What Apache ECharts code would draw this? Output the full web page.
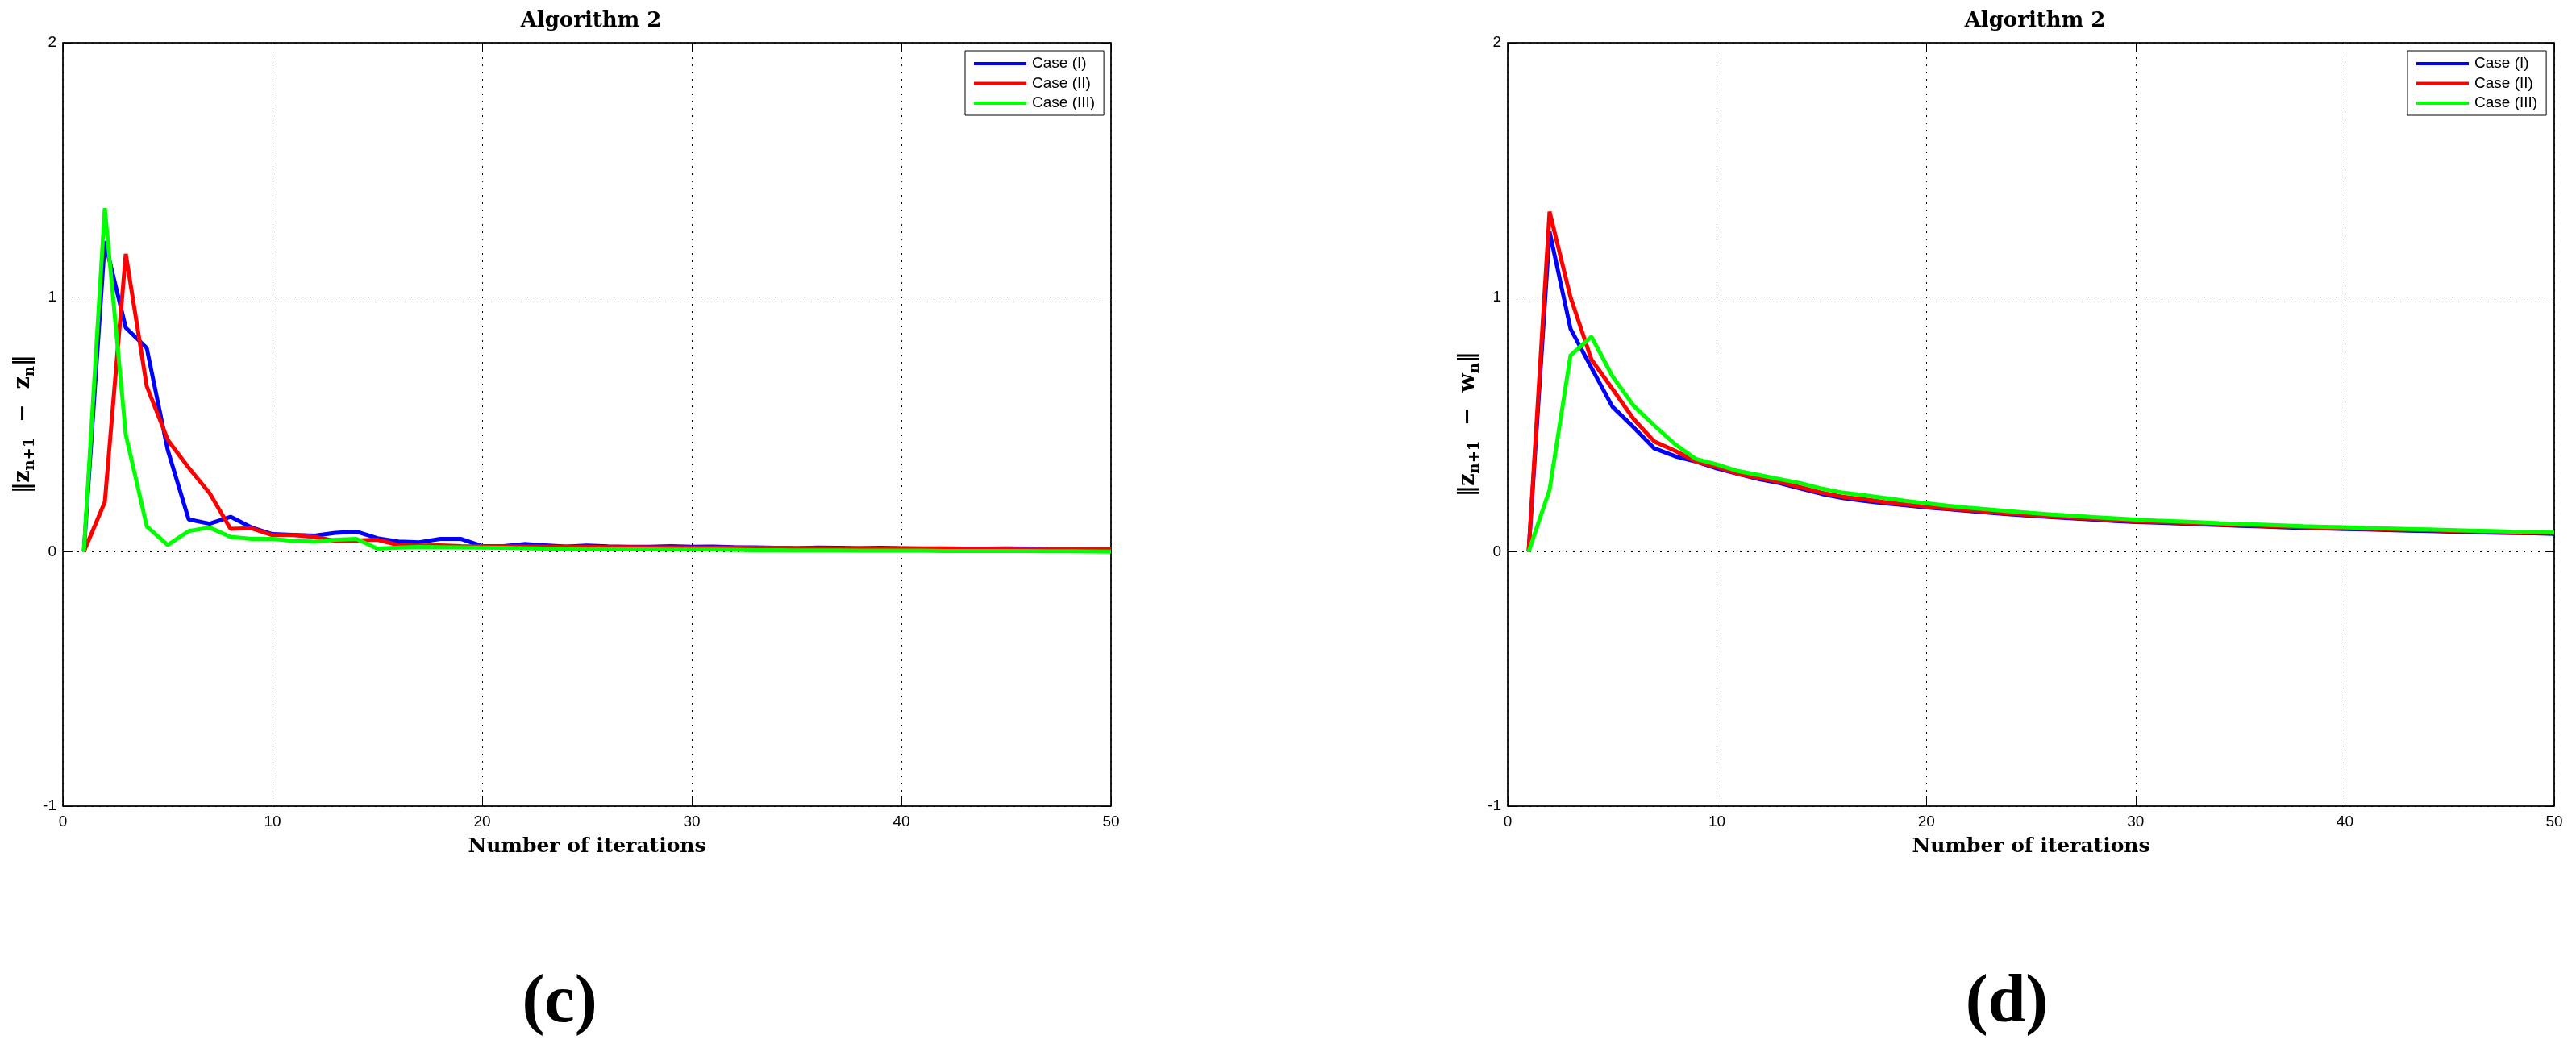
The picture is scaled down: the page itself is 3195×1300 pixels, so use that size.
<!DOCTYPE html>
<html>
<head>
<meta charset="utf-8">
<script src="https://cdn.jsdelivr.net/npm/echarts@6/dist/echarts.min.js"></script>
<style>
html,body{margin:0;padding:0;background:#fff;}
#chart{width:3195px;height:1300px;}
</style>
</head>
<body>
<div id="chart"></div>
<script>
// ---- data ----
const iterations = [1,2,3,4,5,6,7,8,9,10,11,12,13,14,15,16,17,18,19,20,21,22,23,24,25,26,27,28,29,30,31,32,33,34,35,36,37,38,39,40,41,42,43,44,45,46,47,48,49,50];
const seriesNames = ['Case (I)', 'Case (II)', 'Case (III)'];
const xTicks = [0, 10, 20, 30, 40, 50];
const yTicks = [-1, 0, 1, 2];

// (c) ||z_{n+1} - z_n||
const zCase1 = [0,1.22,0.88,0.80,0.40,0.127,0.11,0.137,0.095,0.069,0.066,0.063,0.074,0.079,0.053,0.040,0.037,0.050,0.050,0.022,0.022,0.030,0.025,0.020,0.024,0.021,0.019,0.019,0.022,0.019,0.020,0.018,0.017,0.015,0.014,0.016,0.015,0.014,0.015,0.014,0.013,0.013,0.012,0.012,0.013,0.012,0.010,0.009,0.009,0.008];
const zCase2 = [0,0.195,1.17,0.65,0.44,0.33,0.23,0.09,0.092,0.065,0.065,0.058,0.042,0.044,0.047,0.026,0.024,0.025,0.022,0.021,0.021,0.020,0.020,0.019,0.019,0.018,0.018,0.017,0.017,0.016,0.016,0.016,0.015,0.015,0.014,0.014,0.013,0.013,0.013,0.012,0.012,0.012,0.011,0.011,0.011,0.010,0.010,0.010,0.010,0.010];
const zCase3 = [0,1.35,0.46,0.10,0.026,0.081,0.095,0.058,0.050,0.050,0.042,0.039,0.047,0.050,0.012,0.016,0.019,0.018,0.017,0.016,0.015,0.014,0.012,0.011,0.010,0.010,0.009,0.009,0.008,0.008,0.008,0.007,0.006,0.006,0.005,0.005,0.005,0.004,0.004,0.004,0.004,0.003,0.003,0.003,0.003,0.003,0.002,0.002,0.001,0.0];

// (d) ||z_{n+1} - w_n||
const wCase1 = [0,1.257,0.876,0.723,0.57,0.49,0.406,0.375,0.354,0.327,0.306,0.285,0.269,0.248,0.227,0.211,0.200,0.190,0.182,0.174,0.167,0.160,0.153,0.147,0.141,0.136,0.131,0.126,0.121,0.117,0.114,0.111,0.108,0.105,0.102,0.099,0.096,0.093,0.091,0.089,0.087,0.085,0.083,0.081,0.079,0.077,0.075,0.073,0.072,0.070];
const wCase2 = [0,1.336,1.0,0.755,0.64,0.523,0.433,0.396,0.354,0.333,0.306,0.290,0.274,0.253,0.232,0.216,0.206,0.195,0.186,0.178,0.170,0.163,0.156,0.150,0.144,0.139,0.134,0.129,0.124,0.120,0.117,0.114,0.111,0.108,0.105,0.102,0.099,0.096,0.094,0.092,0.090,0.088,0.086,0.084,0.082,0.080,0.078,0.076,0.075,0.073];
const wCase3 = [0,0.243,0.771,0.845,0.69,0.575,0.496,0.422,0.364,0.343,0.317,0.301,0.285,0.269,0.248,0.232,0.222,0.211,0.200,0.190,0.181,0.173,0.166,0.159,0.152,0.146,0.141,0.136,0.131,0.126,0.122,0.119,0.116,0.112,0.109,0.106,0.103,0.100,0.098,0.096,0.093,0.091,0.089,0.087,0.085,0.083,0.081,0.079,0.078,0.076];

const titles = ['Algorithm 2', 'Algorithm 2'];
const panelLabels = ['(c)', '(d)'];
const xName = 'Number of iterations';

// ---- styling ----
const colors = ['#0000ff', '#ff0000', '#00ff00'];
const sans = '"Liberation Sans", Arial, sans-serif';
const serif = '"DejaVu Serif", serif';

const grids = [
  {left: 78, right: 1817, top: 53, bottom: 300},
  {left: 1870, right: 27, top: 53, bottom: 300}
];

function pairs(ys) { return iterations.map((x, i) => [x, ys[i]]); }

const xAxes = [], yAxes = [];
grids.forEach((g, gi) => {
  xAxes.push({
    type: 'value', gridIndex: gi, position: 'bottom', min: 0, max: 50, interval: 10,
    name: xName, nameLocation: 'middle', nameGap: 38,
    nameTextStyle: {fontFamily: serif, fontWeight: 'bold', fontSize: 25, color: '#000'},
    axisLine: {show: true, onZero: false, lineStyle: {color: '#000', width: 1.5}},
    axisTick: {show: true, inside: true, length: 12, lineStyle: {color: '#000', width: 1}},
    axisLabel: {fontFamily: sans, fontSize: 19, color: '#000', margin: 10,
      formatter: v => xTicks.indexOf(v) >= 0 ? String(v) : ''},
    splitLine: {show: true, lineStyle: {color: '#000', width: 1, type: [2, 7]}}
  });
  xAxes.push({
    type: 'value', gridIndex: gi, position: 'top', min: 0, max: 50, interval: 10,
    axisLine: {show: true, onZero: false, lineStyle: {color: '#000', width: 1.5}},
    axisTick: {show: true, inside: true, length: 12, lineStyle: {color: '#000', width: 1}},
    axisLabel: {show: false}, splitLine: {show: false}
  });
  yAxes.push({
    type: 'value', gridIndex: gi, position: 'left', min: -1, max: 2, interval: 1,
    name: gi === 0
      ? '{b|‖z}{s|n+1}{b|  −  z}{s|n}{b|‖}'
      : '{b|‖z}{s|n+1}{b|  −  w}{s|n}{b|‖}',
    nameLocation: 'middle', nameGap: 32,
    nameTextStyle: {
      color: '#000',
      rich: {
        b: {fontFamily: serif, fontWeight: 'bold', fontSize: 27, color: '#000', verticalAlign: 'middle', lineHeight: 34},
        s: {fontFamily: serif, fontWeight: 'bold', fontSize: 18, color: '#000', verticalAlign: 'bottom', lineHeight: 34, padding: [10, 0, 0, 0]}
      }
    },
    axisLine: {show: true, onZero: false, lineStyle: {color: '#000', width: 1.5}},
    axisTick: {show: true, inside: true, length: 12, lineStyle: {color: '#000', width: 1}},
    axisLabel: {fontFamily: sans, fontSize: 19, color: '#000', margin: 8,
      formatter: v => yTicks.indexOf(v) >= 0 ? String(v) : ''},
    splitLine: {show: true, lineStyle: {color: '#000', width: 1, type: [2, 7]}}
  });
  yAxes.push({
    type: 'value', gridIndex: gi, position: 'right', min: -1, max: 2, interval: 1,
    axisLine: {show: true, onZero: false, lineStyle: {color: '#000', width: 1.5}},
    axisTick: {show: true, inside: true, length: 12, lineStyle: {color: '#000', width: 1}},
    axisLabel: {show: false}, splitLine: {show: false}
  });
});

const datasets = [[zCase1, zCase2, zCase3], [wCase1, wCase2, wCase3]];
const series = [];
datasets.forEach((set, gi) => {
  set.forEach((ys, si) => {
    series.push({
      name: seriesNames[si], type: 'line',
      xAxisIndex: gi * 2, yAxisIndex: gi * 2,
      data: pairs(ys), symbol: 'none', showSymbol: false,
      lineStyle: {color: colors[si], width: 5},
      itemStyle: {color: colors[si]},
      z: 2 + si
    });
  });
});

const legendBase = {
  orient: 'vertical', data: seriesNames,
  icon: 'rect', itemWidth: 65, itemHeight: 4, itemGap: 4.5,
  padding: [6, 11, 5, 11],
  borderColor: '#000', borderWidth: 1, backgroundColor: '#fff', borderRadius: 0,
  textStyle: {fontFamily: sans, fontSize: 19, color: '#000', lineHeight: 20, padding: [0, 0, 0, 2]}
};

const option = {
  backgroundColor: '#fff',
  animation: false,
  title: [
    {text: titles[0], left: 728, top: 8, textAlign: 'center',
      textStyle: {fontFamily: serif, fontWeight: 'bold', fontSize: 26, color: '#000'}},
    {text: titles[1], left: 2519, top: 8, textAlign: 'center',
      textStyle: {fontFamily: serif, fontWeight: 'bold', fontSize: 26, color: '#000'}},
    {text: panelLabels[0], left: 689, top: 1198, textAlign: 'center',
      textStyle: {fontFamily: '"Liberation Serif", serif', fontWeight: 'bold', fontSize: 84, color: '#000'}},
    {text: panelLabels[1], left: 2484, top: 1198, textAlign: 'center',
      textStyle: {fontFamily: '"Liberation Serif", serif', fontWeight: 'bold', fontSize: 84, color: '#000'}}
  ],
  legend: [
    Object.assign({}, legendBase, {left: 1197, top: 63}),
    Object.assign({}, legendBase, {left: 2986, top: 63})
  ],
  grid: grids.map(g => Object.assign({show: true, borderColor: '#000', borderWidth: 1, backgroundColor: '#fff'}, g)),
  xAxis: xAxes,
  yAxis: yAxes,
  series: series
};

const chart = echarts.init(document.getElementById('chart'), null, {renderer: 'canvas'});
chart.setOption(option);
</script>
</body>
</html>
